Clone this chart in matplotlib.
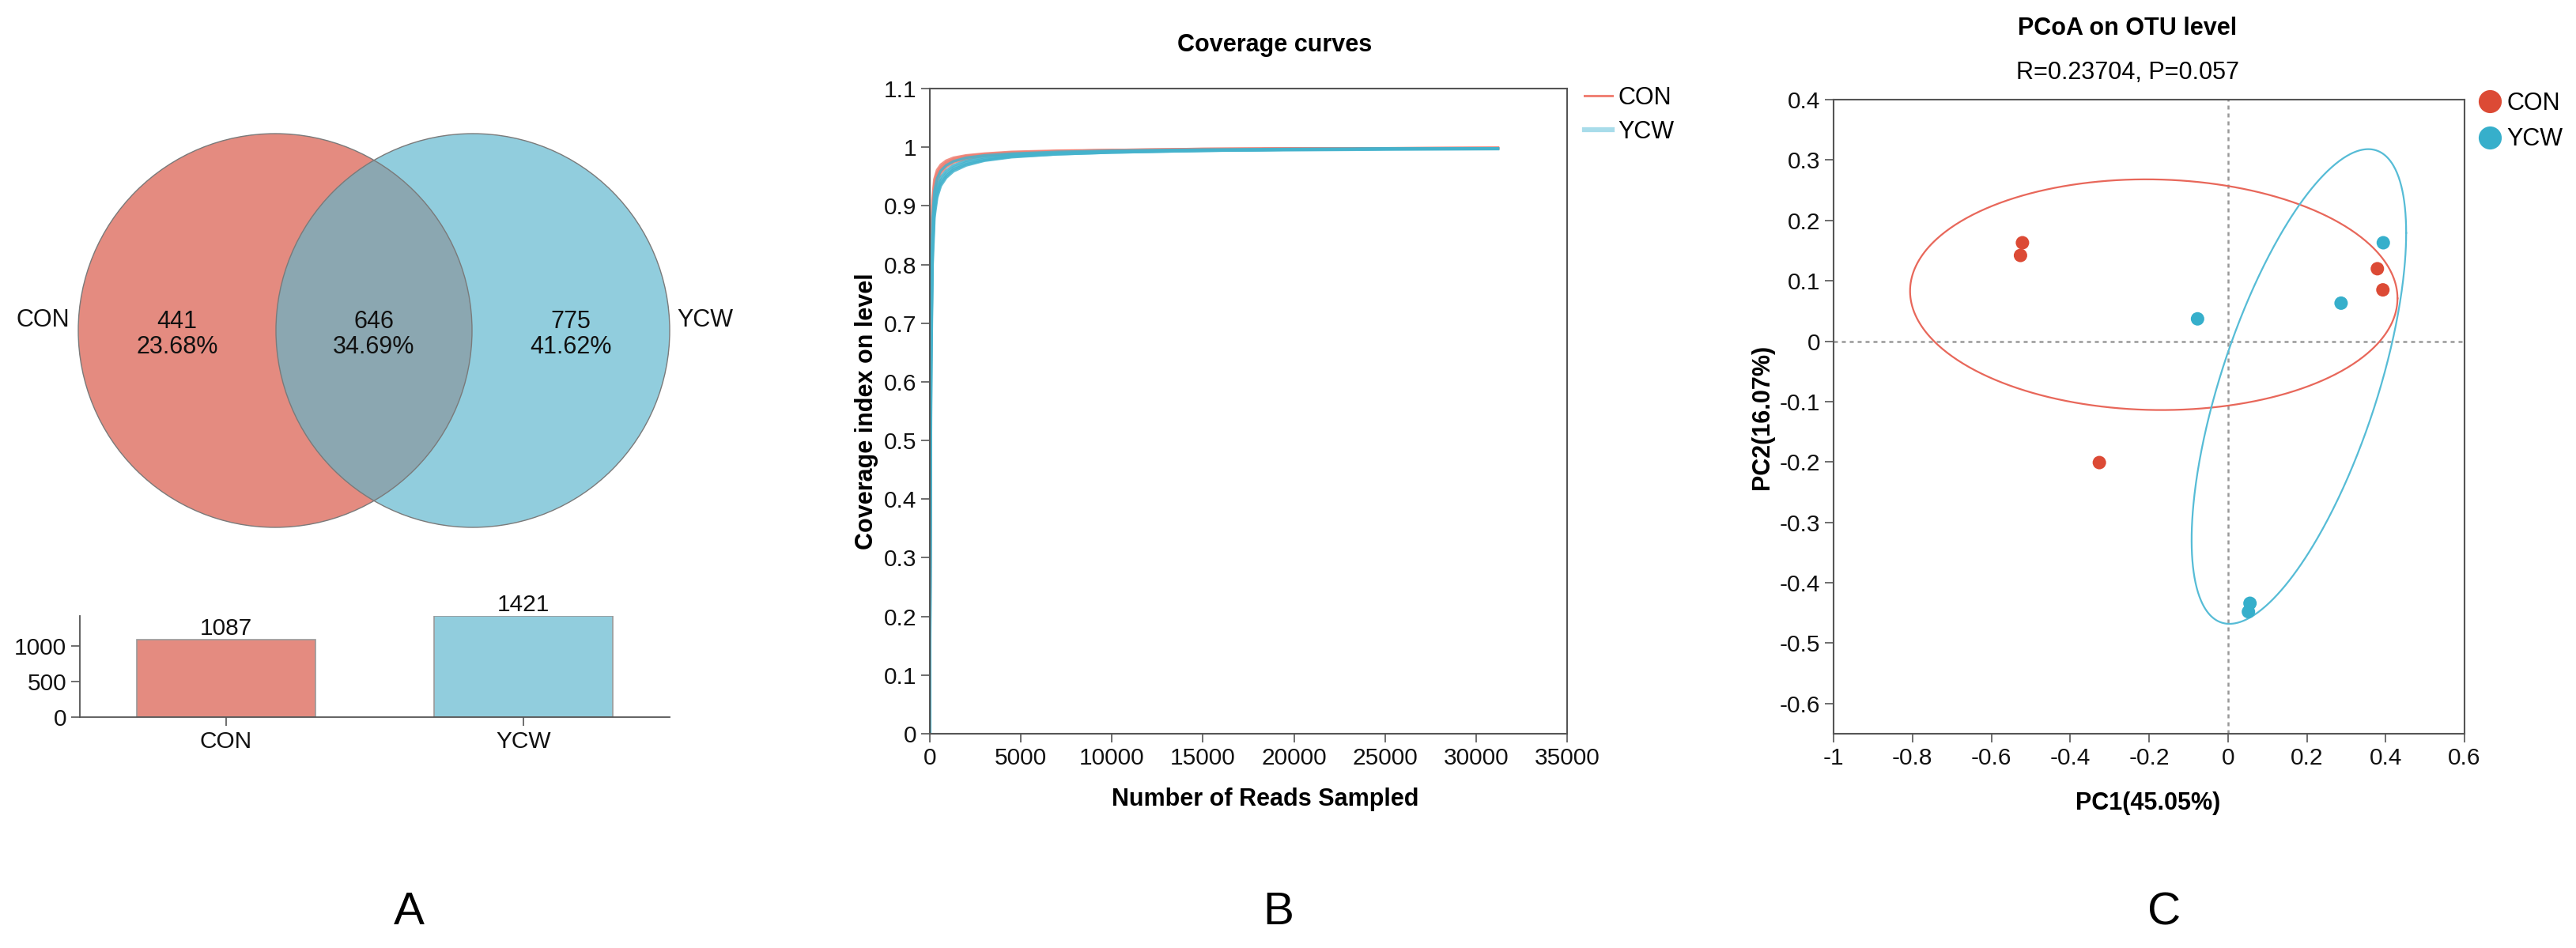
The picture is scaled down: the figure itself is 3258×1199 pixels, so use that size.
import numpy as np
import matplotlib
matplotlib.use('Agg')
import matplotlib.pyplot as plt
from matplotlib.patches import Circle
from matplotlib.lines import Line2D

plt.rcParams['font.family'] = ['Liberation Sans', 'DejaVu Sans']

# ---------------- data ----------------
groups = ['CON', 'YCW']
venn_only = [441, 775]
venn_shared = 646
set_totals = [1087, 1421]

reads = [0, 40, 80, 150, 250, 400, 600, 900, 1300, 2000, 3000, 4500, 7000,
         10000, 15000, 20000, 25000, 31200]
con_curves = [
    [0, 0.62, 0.82, 0.91, 0.945, 0.961, 0.970, 0.977, 0.982, 0.986, 0.989, 0.992, 0.994, 0.995, 0.997, 0.998, 0.998, 0.999],
    [0, 0.60, 0.80, 0.90, 0.938, 0.956, 0.966, 0.974, 0.980, 0.985, 0.988, 0.991, 0.993, 0.995, 0.997, 0.998, 0.998, 0.999],
    [0, 0.57, 0.78, 0.89, 0.932, 0.952, 0.963, 0.972, 0.978, 0.984, 0.987, 0.990, 0.993, 0.995, 0.996, 0.997, 0.998, 0.998],
    [0, 0.54, 0.75, 0.88, 0.925, 0.947, 0.959, 0.969, 0.976, 0.982, 0.986, 0.989, 0.992, 0.994, 0.996, 0.997, 0.998, 0.998],
    [0, 0.52, 0.73, 0.87, 0.918, 0.942, 0.956, 0.966, 0.974, 0.980, 0.985, 0.988, 0.991, 0.994, 0.996, 0.997, 0.998, 0.998],
]
ycw_curves = [
    [0, 0.55, 0.76, 0.88, 0.925, 0.947, 0.960, 0.969, 0.976, 0.982, 0.986, 0.989, 0.992, 0.994, 0.996, 0.997, 0.998, 0.998],
    [0, 0.50, 0.71, 0.85, 0.905, 0.933, 0.949, 0.960, 0.969, 0.977, 0.983, 0.987, 0.990, 0.993, 0.995, 0.996, 0.997, 0.998],
    [0, 0.47, 0.68, 0.83, 0.895, 0.926, 0.943, 0.955, 0.965, 0.974, 0.980, 0.985, 0.989, 0.992, 0.994, 0.996, 0.997, 0.997],
    [0, 0.45, 0.66, 0.82, 0.888, 0.920, 0.938, 0.951, 0.962, 0.971, 0.978, 0.984, 0.988, 0.991, 0.994, 0.996, 0.997, 0.997],
    [0, 0.42, 0.63, 0.80, 0.880, 0.914, 0.934, 0.948, 0.959, 0.969, 0.977, 0.983, 0.988, 0.991, 0.994, 0.995, 0.996, 0.997],
]

pc1_con = [-0.521, -0.526, 0.379, 0.393, -0.326]
pc2_con = [0.163, 0.142, 0.120, 0.085, -0.201]
pc1_ycw = [0.394, 0.287, -0.077, 0.056, 0.052]
pc2_ycw = [0.163, 0.063, 0.037, -0.434, -0.448]

# confidence ellipses: centre, half extent in x and y, correlation
ell_con = dict(cx=-0.188, cy=0.077, wx=0.618, hy=0.191, r=-0.032)
ell_ycw = dict(cx=0.180, cy=-0.075, wx=0.272, hy=0.393, r=0.647)

pcoa_stats = 'R=0.23704, P=0.057'
pc1_label = 'PC1(45.05%)'
pc2_label = 'PC2(16.07%)'

# ---------------- style ----------------
W, H = 3258, 1199
fig = plt.figure(figsize=(W / 100, H / 100), dpi=100)

venn_col = ['#E48B80', '#91CDDD']
venn_mix = '#8BA7B1'
line_col = ['#EF8174', '#45B3CD']
pt_col = ['#DC4A35', '#36AFCB']
ell_col = ['#E8675A', '#56BCD6']
spine_col = '#555555'
FS = 22
TFS = 21.5


def fax(l, t, r, b):
    return fig.add_axes([l / W, 1 - b / H, (r - l) / W, (b - t) / H])


def fx(px):
    return px / W


def fy(py):
    return 1 - py / H


def fmt(v):
    return f"{v + 0.0:g}"


# ---------------- A: Venn ----------------
axv = fax(0, 120, 1000, 720)
axv.set_xlim(0, 1000)
axv.set_ylim(720, 120)
axv.axis('off')
cy, rad = 418, 249
cxs = [348, 598]
c_con = Circle((cxs[0], cy), rad, fc=venn_col[0], ec='none')
c_ycw = Circle((cxs[1], cy), rad, fc=venn_col[1], ec='none')
axv.add_patch(c_con)
axv.add_patch(c_ycw)
c_mix = Circle((cxs[1], cy), rad, fc=venn_mix, ec='none')
axv.add_patch(c_mix)
c_mix.set_clip_path(c_con)
for cx in cxs:
    axv.add_patch(Circle((cx, cy), rad, fill=False, ec='#7a7a7a', lw=1.0))

total = venn_only[0] + venn_only[1] + venn_shared
counts = [venn_only[0], venn_shared, venn_only[1]]
xs = [(cxs[0] - rad + cxs[1] - rad) / 2, (cxs[1] - rad + cxs[0] + rad) / 2,
      (cxs[0] + rad + cxs[1] + rad) / 2]
for x, c in zip(xs, counts):
    axv.text(x, cy + 5, f"{c}\n{c / total * 100:.2f}%", ha='center', va='center',
             fontsize=FS, linespacing=1.05, color='#111111')
axv.text(cxs[0] - rad - 45, cy - 13, groups[0], ha='center', va='center', fontsize=FS, color='#111111')
axv.text(cxs[1] + rad + 45, cy - 13, groups[1], ha='center', va='center', fontsize=FS, color='#111111')

# bar chart under the Venn
axb = fax(101, 779, 847, 907)
bars = axb.bar([0, 1], set_totals, width=0.6, color=venn_col, edgecolor='#9a9a9a', lw=1.2)
axb.set_xlim(-0.49, 1.49)
axb.set_ylim(0, max(set_totals))
axb.set_yticks([0, 500, 1000])
axb.set_xticks([0, 1])
axb.set_xticklabels(groups)
for s in ['top', 'right']:
    axb.spines[s].set_visible(False)
for s in ['left', 'bottom']:
    axb.spines[s].set_color(spine_col)
    axb.spines[s].set_linewidth(1.3)
axb.tick_params(length=8, width=1.2, color=spine_col, labelsize=TFS, pad=4, labelcolor='#111111')
axb.bar_label(bars, padding=0, fontsize=TFS, color='#111111')

# ---------------- B: coverage ----------------
axc = fax(1176, 112, 1982, 928)
for yv in con_curves:
    axc.plot(reads, yv, color=line_col[0], lw=2.4, alpha=0.85)
for yv in ycw_curves:
    axc.plot(reads, yv, color=line_col[1], lw=2.4, alpha=0.85)
axc.set_xlim(0, 35000)
axc.set_ylim(0, 1.1)
axc.set_xticks(np.arange(0, 35001, 5000))
yt = np.round(np.arange(0, 1.101, 0.1), 1)
axc.set_yticks(yt)
axc.set_yticklabels([fmt(v) for v in yt])
for s in axc.spines.values():
    s.set_color(spine_col)
    s.set_linewidth(1.5)
axc.tick_params(length=8, width=1.2, color=spine_col, labelsize=TFS, pad=4, labelcolor='#111111')
fig.text(fx(1612), fy(57), 'Coverage curves', ha='center', va='center', fontsize=FS, fontweight='bold')
fig.text(fx(1600), fy(1011), 'Number of Reads Sampled', ha='center', va='center', fontsize=FS, fontweight='bold')
fig.text(fx(1096), fy(520), 'Coverage index on level', ha='center', va='center', rotation=90,
         fontsize=FS, fontweight='bold')
leg_h = [Line2D([], [], color='#F08276', lw=2.2), Line2D([], [], color='#A8DCEA', lw=4.5)]
axc.legend(leg_h, groups, loc='upper left', bbox_to_anchor=(fx(2004), fy(109)),
           bbox_transform=fig.transFigure, frameon=False, fontsize=FS, handlelength=1.15,
           handletextpad=0.25, labelspacing=0.42, borderpad=0, borderaxespad=0)

# ---------------- C: PCoA ----------------
axp = fax(2319, 126, 3117, 928)
axp.set_xlim(-1, 0.6)
axp.set_ylim(-0.65, 0.4)
axp.axhline(0, color='#999999', lw=1.8, dashes=(2, 2), zorder=1)
axp.axvline(0, color='#999999', lw=1.8, dashes=(2, 2), zorder=1)
t = np.linspace(0, 2 * np.pi, 500)
for e, col in zip([ell_con, ell_ycw], ell_col):
    ex = e['cx'] + e['wx'] * np.cos(t)
    ey = e['cy'] + e['hy'] * (e['r'] * np.cos(t) + np.sqrt(1 - e['r'] ** 2) * np.sin(t))
    axp.plot(ex, ey, color=col, lw=1.6, zorder=2)
axp.scatter(pc1_con, pc2_con, s=150, color=pt_col[0], edgecolors='none', zorder=3)
axp.scatter(pc1_ycw, pc2_ycw, s=150, color=pt_col[1], edgecolors='none', zorder=3)
xt = np.round(np.arange(-1, 0.601, 0.2), 1)
axp.set_xticks(xt)
axp.set_xticklabels([fmt(v) for v in xt])
ytp = np.round(np.arange(-0.6, 0.401, 0.1), 1)
axp.set_yticks(ytp)
axp.set_yticklabels([fmt(v) for v in ytp])
for s in axp.spines.values():
    s.set_color(spine_col)
    s.set_linewidth(1.5)
axp.tick_params(length=8, width=1.2, color=spine_col, labelsize=TFS, pad=4, labelcolor='#111111')
fig.text(fx(2691), fy(36), 'PCoA on OTU level', ha='center', va='center', fontsize=FS, fontweight='bold')
fig.text(fx(2691), fy(92), pcoa_stats, ha='center', va='center', fontsize=FS)
fig.text(fx(2717), fy(1016), pc1_label, ha='center', va='center', fontsize=FS, fontweight='bold')
fig.text(fx(2229), fy(527), pc2_label, ha='center', va='center', rotation=90, fontsize=FS, fontweight='bold')
leg_p = [Line2D([], [], ls='none', marker='o', ms=21, color=pt_col[0], mec='none'),
         Line2D([], [], ls='none', marker='o', ms=21, color=pt_col[1], mec='none')]
axp.legend(leg_p, groups, loc='upper left', bbox_to_anchor=(fx(3134), fy(116)),
           bbox_transform=fig.transFigure, frameon=False, fontsize=FS, handlelength=1.0,
           handletextpad=0.2, labelspacing=0.5, borderpad=0, borderaxespad=0)

# panel letters
for lab, x in zip(['A', 'B', 'C'], [517, 1617, 2737]):
    fig.text(fx(x), fy(1154), lab, ha='center', va='center', fontsize=42)

fig.savefig('out.png', dpi=100)
